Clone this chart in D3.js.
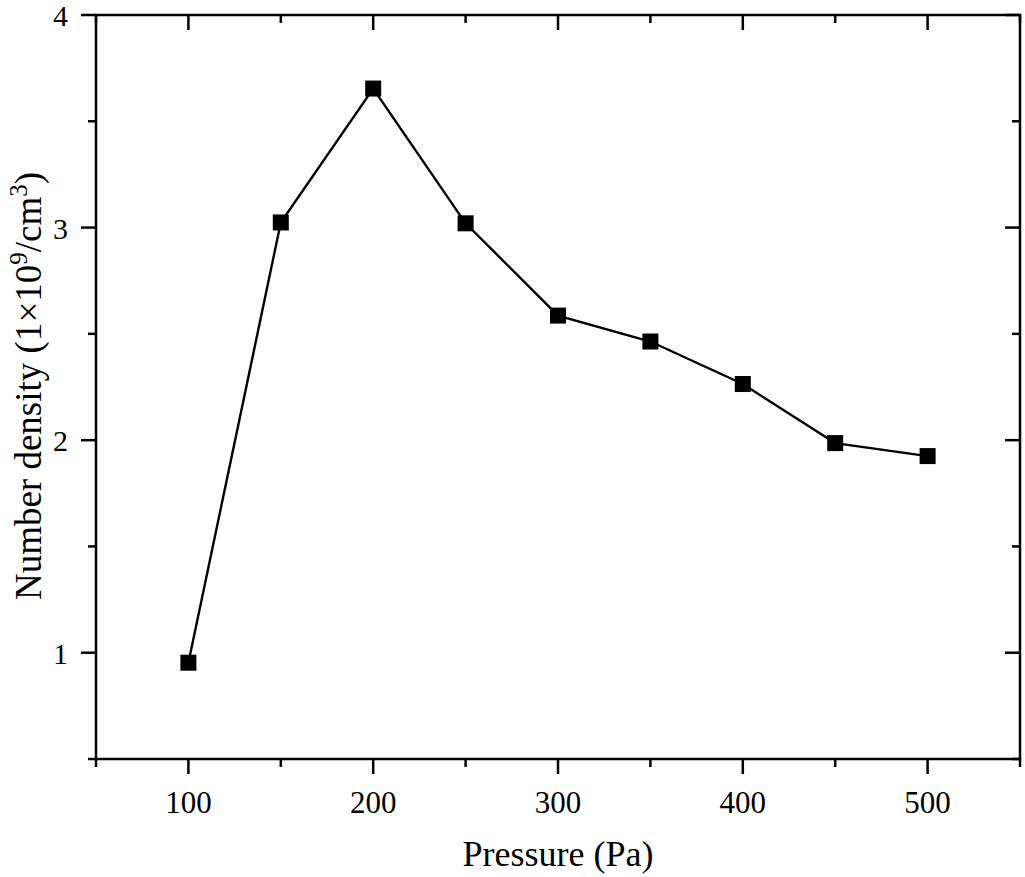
<!DOCTYPE html>
<html>
<head>
<meta charset="utf-8">
<script src="https://d3js.org/d3.v7.min.js"></script>
<style>
  body { margin: 0; background: #fff; }
  text { font-family: "Liberation Serif", "Times New Roman", serif; fill: #000; }
</style>
</head>
<body>
<svg></svg>
<script>
// data
var pressure = [100, 150, 200, 250, 300, 350, 400, 450, 500];
var density = [0.953, 3.024, 3.654, 3.02, 2.586, 2.464, 2.264, 1.986, 1.925];
var xMajor = [100, 200, 300, 400, 500];
var xMinor = [50, 150, 250, 350, 450, 550];
var yMajor = [1, 2, 3, 4];
var yMinor = [0.5, 1.5, 2.5, 3.5];

var W = 1025, H = 877;
var L = 96, R = 1020, T = 15, B = 759;

var svg = d3.select("svg").attr("width", W).attr("height", H);

var x = d3.scaleLinear().domain([50, 550]).range([L, R]);
var y = d3.scaleLinear().domain([0.5, 4]).range([B, T]);

// frame
svg.append("rect")
    .attr("x", L).attr("y", T)
    .attr("width", R - L).attr("height", B - T)
    .attr("fill", "none").attr("stroke", "#000").attr("stroke-width", 2.5);

var tick = svg.append("g").attr("stroke", "#000").attr("stroke-width", 2.5);

// bottom (outside) and top (inside) ticks
xMajor.forEach(function(v) {
  tick.append("line").attr("x1", x(v)).attr("x2", x(v)).attr("y1", B).attr("y2", B + 15);
  tick.append("line").attr("x1", x(v)).attr("x2", x(v)).attr("y1", T).attr("y2", T + 15);
});
xMinor.forEach(function(v) {
  tick.append("line").attr("x1", x(v)).attr("x2", x(v)).attr("y1", B).attr("y2", B + 8);
  tick.append("line").attr("x1", x(v)).attr("x2", x(v)).attr("y1", T).attr("y2", T + 8);
});
// left (outside) and right (inside) ticks
yMajor.forEach(function(v) {
  tick.append("line").attr("x1", L - 15).attr("x2", L).attr("y1", y(v)).attr("y2", y(v));
  tick.append("line").attr("x1", R - 15).attr("x2", R).attr("y1", y(v)).attr("y2", y(v));
});
yMinor.forEach(function(v) {
  tick.append("line").attr("x1", L - 8).attr("x2", L).attr("y1", y(v)).attr("y2", y(v));
  tick.append("line").attr("x1", R - 8).attr("x2", R).attr("y1", y(v)).attr("y2", y(v));
});

// tick labels
svg.selectAll(".xl").data(xMajor).enter().append("text")
    .attr("x", function(d) { return x(d); })
    .attr("y", 813)
    .attr("text-anchor", "middle")
    .attr("font-size", 31)
    .text(function(d) { return d; });

svg.selectAll(".yl").data(yMajor).enter().append("text")
    .attr("x", 68)
    .attr("y", function(d) { return y(d) + 11; })
    .attr("text-anchor", "end")
    .attr("font-size", 30)
    .text(function(d) { return d; });

// axis titles
svg.append("text")
    .attr("x", (L + R) / 2).attr("y", 866)
    .attr("text-anchor", "middle")
    .attr("font-size", 36)
    .text("Pressure (Pa)");

var yt = svg.append("text")
    .attr("transform", "translate(41," + 386 + ") rotate(-90)")
    .attr("text-anchor", "middle")
    .attr("font-size", 37);
yt.append("tspan").text("Number density (1\u00d710");
yt.append("tspan").attr("font-size", 25).attr("dy", -14).text("9");
yt.append("tspan").attr("dy", 14).text("/cm");
yt.append("tspan").attr("font-size", 25).attr("dy", -14).text("3");
yt.append("tspan").attr("dy", 14).text(")");

// series
var line = d3.line()
    .x(function(d, i) { return x(pressure[i]); })
    .y(function(d) { return y(d); });

svg.append("path")
    .datum(density)
    .attr("d", line)
    .attr("fill", "none")
    .attr("stroke", "#000")
    .attr("stroke-width", 2.4);

svg.selectAll(".pt").data(density).enter().append("rect")
    .attr("x", function(d, i) { return x(pressure[i]) - 8; })
    .attr("y", function(d) { return y(d) - 8; })
    .attr("width", 16).attr("height", 16)
    .attr("fill", "#000");
</script>
</body>
</html>
